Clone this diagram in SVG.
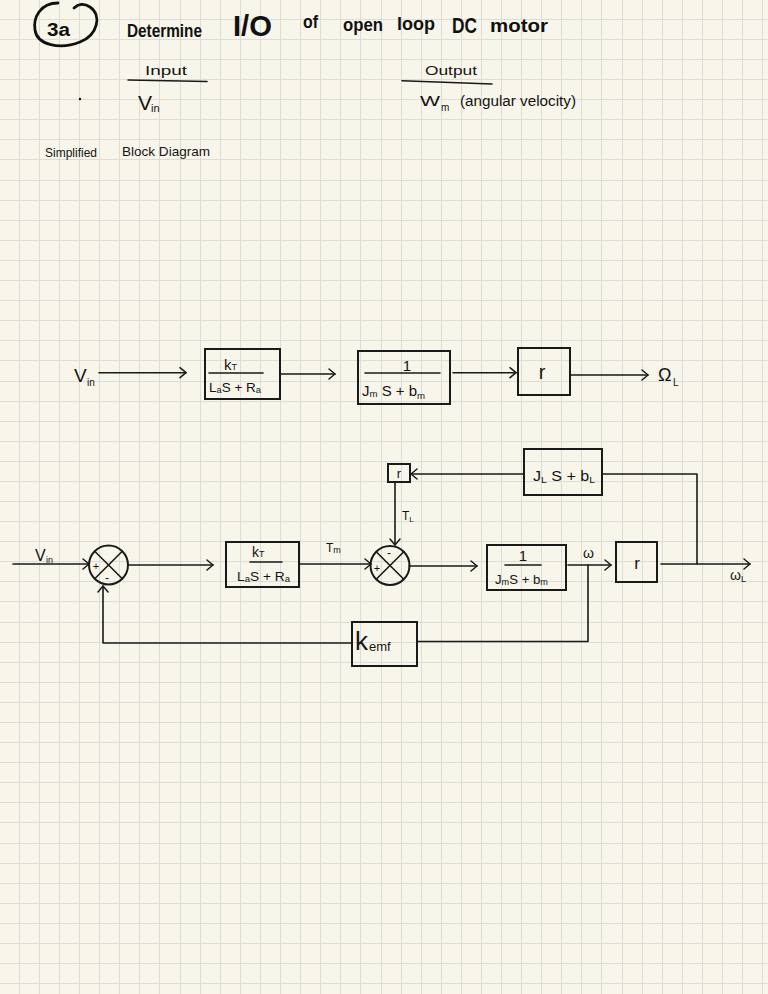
<svg xmlns="http://www.w3.org/2000/svg" width="768" height="994" viewBox="0 0 768 994">
<defs>
<style>
.ln{fill:none;stroke:#1a1a1a;stroke-width:1.6;stroke-linecap:round;stroke-linejoin:round}
.bx{fill:none;stroke:#1a1a1a;stroke-width:2}
.t{font-family:"Liberation Sans",Arial,sans-serif;fill:#141414}
.hd{font-family:"Liberation Sans",Arial,sans-serif;fill:#111;font-weight:bold}
.grid{fill:none;stroke:#dddcd6;stroke-width:1}
</style>
<marker id="ch" viewBox="0 0 8 12" refX="7" refY="6" markerWidth="8" markerHeight="12" markerUnits="userSpaceOnUse" orient="auto">
<path d="M1,1 L7,6 L1,11" fill="none" stroke="#1a1a1a" stroke-width="1.5" stroke-linecap="round" stroke-linejoin="round"/>
</marker>
</defs>
<rect width="768" height="994" fill="#f8f6ea"/>
<path class="grid" d="M19.5 0V994M39.5 0V994M59.5 0V994M79.5 0V994M99.5 0V994M119.5 0V994M139.5 0V994M159.5 0V994M180.5 0V994M200.5 0V994M220.5 0V994M240.5 0V994M260.5 0V994M280.5 0V994M300.5 0V994M320.5 0V994M340.5 0V994M360.5 0V994M381.5 0V994M401.5 0V994M421.5 0V994M441.5 0V994M461.5 0V994M481.5 0V994M501.5 0V994M521.5 0V994M541.5 0V994M561.5 0V994M581.5 0V994M601.5 0V994M622.5 0V994M642.5 0V994M662.5 0V994M682.5 0V994M702.5 0V994M722.5 0V994M742.5 0V994M762.5 0V994
M0 19.5H768M0 39.5H768M0 59.5H768M0 79.5H768M0 99.5H768M0 119.5H768M0 139.5H768M0 159.5H768M0 180.5H768M0 200.5H768M0 220.5H768M0 240.5H768M0 260.5H768M0 280.5H768M0 300.5H768M0 320.5H768M0 340.5H768M0 360.5H768M0 381.5H768M0 401.5H768M0 421.5H768M0 441.5H768M0 461.5H768M0 481.5H768M0 501.5H768M0 521.5H768M0 541.5H768M0 561.5H768M0 581.5H768M0 601.5H768M0 622.5H768M0 642.5H768M0 662.5H768M0 682.5H768M0 702.5H768M0 722.5H768M0 742.5H768M0 762.5H768M0 782.5H768M0 802.5H768M0 822.5H768M0 843.5H768M0 863.5H768M0 883.5H768M0 903.5H768M0 923.5H768M0 943.5H768M0 963.5H768M0 983.5H768"/>

<g id="header">
<path d="M58 3 C40 3,33 18,35 30 C37 45,60 50,80 42 C98 35,102 15,90 7 C84 3,78 4,74 8" fill="none" stroke="#111" stroke-width="2.8" stroke-linecap="round"/>
<text class="hd" x="47" y="36" font-size="18" textLength="23" lengthAdjust="spacingAndGlyphs">3a</text>
<text class="hd" x="127" y="37" font-size="19" textLength="75" lengthAdjust="spacingAndGlyphs">Determine</text>
<text class="hd" x="233" y="36" font-size="30" textLength="39" lengthAdjust="spacingAndGlyphs">I/O</text>
<text class="hd" x="303" y="28" font-size="19" textLength="15" lengthAdjust="spacingAndGlyphs">of</text>
<text class="hd" x="343" y="31" font-size="19" textLength="40" lengthAdjust="spacingAndGlyphs">open</text>
<text class="hd" x="397" y="30" font-size="18" textLength="38" lengthAdjust="spacingAndGlyphs">loop</text>
<text class="hd" x="452" y="33" font-size="22" textLength="25" lengthAdjust="spacingAndGlyphs">DC</text>
<text class="hd" x="490" y="32" font-size="19" textLength="58" lengthAdjust="spacingAndGlyphs">motor</text>
<text class="t" x="145" y="75" font-size="13" textLength="42" lengthAdjust="spacingAndGlyphs">Input</text>
<path d="M128 80 L207 81.5" class="ln"/>
<text class="t" x="138" y="110" font-size="21">V</text>
<text class="t" x="151" y="112" font-size="11">in</text>
<circle cx="80" cy="99" r="1.2" fill="#111"/>
<text class="t" x="425" y="75" font-size="12" textLength="52" lengthAdjust="spacingAndGlyphs">Output</text>
<path d="M402 80.7 L492 84" class="ln"/>
<text class="t" x="420" y="106" font-size="15" textLength="20" lengthAdjust="spacingAndGlyphs">W</text>
<text class="t" x="441" y="111" font-size="10">m</text>
<text class="t" x="460" y="106" font-size="14" textLength="116" lengthAdjust="spacingAndGlyphs">(angular velocity)</text>
<text class="t" x="45" y="157" font-size="13" textLength="52" lengthAdjust="spacingAndGlyphs">Simplified</text>
<text class="t" x="122" y="156" font-size="13" textLength="88" lengthAdjust="spacingAndGlyphs">Block Diagram</text>
</g>

<g id="connectors">
<path class="ln" marker-end="url(#ch)" d="M99 372.7 H186"/>
<path class="ln" marker-end="url(#ch)" d="M281 374 H335"/>
<path class="ln" marker-end="url(#ch)" d="M453 372.7 H516"/>
<path class="ln" marker-end="url(#ch)" d="M571 375 H648"/>
<path class="ln" marker-end="url(#ch)" d="M13 564 H89"/>
<path class="ln" marker-end="url(#ch)" d="M128 565 H213"/>
<path class="ln" marker-end="url(#ch)" d="M299 564 H371"/>
<path class="ln" marker-end="url(#ch)" d="M395 482 V545"/>
<path class="ln" marker-end="url(#ch)" d="M524 474 H411"/>
<path class="ln" d="M602 474 H697 V564"/>
<path class="ln" marker-end="url(#ch)" d="M409 566 H477"/>
<path class="ln" marker-end="url(#ch)" d="M568 565 H611"/>
<path class="ln" d="M588 565 V641.5 H417"/>
<path class="ln" marker-end="url(#ch)" d="M661 564 H750"/>
<path class="ln" marker-end="url(#ch)" d="M352 643 H103 V586"/>
</g>

<g id="vin-top">
<text class="t" x="74" y="382" font-size="19">V</text>
<text class="t" x="87" y="386" font-size="10">in</text>
</g>
<g id="box-kt-top">
<rect class="bx" x="205" y="349" width="75" height="50"/>
<path class="ln" d="M209 373 H263"/>
<text class="t" x="224" y="370" font-size="15">k<tspan font-size="9">T</tspan></text>
<text class="t" x="209" y="392" font-size="13" textLength="52" lengthAdjust="spacingAndGlyphs">L<tspan font-size="9" dy="1">a</tspan><tspan dy="-1">S + R</tspan><tspan font-size="9" dy="1">a</tspan></text>
</g>
<g id="box-jm-top">
<rect class="bx" x="358" y="351" width="92" height="53"/>
<path class="ln" d="M365 373 H440"/>
<text class="t" x="407" y="371" font-size="15" text-anchor="middle">1</text>
<text class="t" x="362" y="396" font-size="14" textLength="63" lengthAdjust="spacingAndGlyphs">J<tspan font-size="9" dy="1">m</tspan><tspan dy="-1"> S + b</tspan><tspan font-size="9" dy="3">m</tspan></text>
</g>
<g id="box-r-top">
<rect class="bx" x="518" y="348" width="52" height="47"/>
<text class="t" x="542" y="379" font-size="20" text-anchor="middle">r</text>
</g>
<g id="omega-top">
<text class="t" x="658" y="381" font-size="18">Ω</text>
<text class="t" x="673" y="386" font-size="10">L</text>
</g>

<g id="vin-bottom">
<text class="t" x="35" y="561" font-size="16">V</text>
<text class="t" x="46" y="563" font-size="9">in</text>
</g>
<g id="sum1">
<circle class="bx" cx="108.5" cy="565" r="19.5"/>
<path class="ln" d="M94.7 551.2 L122.3 578.8 M122.3 551.2 L94.7 578.8"/>
<text class="t" x="96" y="570" font-size="11" text-anchor="middle">+</text>
<text class="t" x="107" y="582" font-size="12" text-anchor="middle">-</text>
</g>
<g id="box-kt-bottom">
<rect class="bx" x="226" y="542" width="73" height="45"/>
<path class="ln" d="M250 562 H282"/>
<text class="t" x="252" y="557" font-size="14">k<tspan font-size="9">T</tspan></text>
<text class="t" x="237" y="581" font-size="13" textLength="53" lengthAdjust="spacingAndGlyphs">L<tspan font-size="9" dy="1">a</tspan><tspan dy="-1">S + R</tspan><tspan font-size="9" dy="1">a</tspan></text>
</g>
<g id="tm-label">
<text class="t" x="326" y="552" font-size="12">T<tspan font-size="9" dy="1">m</tspan></text>
</g>
<g id="sum2">
<circle class="bx" cx="390" cy="565.5" r="19.5"/>
<path class="ln" d="M376.2 551.7 L403.8 579.3 M403.8 551.7 L376.2 579.3"/>
<text class="t" x="389" y="557" font-size="12" text-anchor="middle">-</text>
<text class="t" x="377" y="572" font-size="11" text-anchor="middle">+</text>
</g>
<g id="box-r-small">
<rect class="bx" x="388" y="464" width="22" height="18"/>
<text class="t" x="399" y="478" font-size="13" text-anchor="middle">r</text>
</g>
<g id="tl-label">
<text class="t" x="402" y="520" font-size="12">T<tspan font-size="8" dy="2">L</tspan></text>
</g>
<g id="box-jl">
<rect class="bx" x="524" y="449" width="78" height="46"/>
<text class="t" x="533" y="481" font-size="14" textLength="62" lengthAdjust="spacingAndGlyphs">J<tspan font-size="9" dy="2">L</tspan><tspan dy="-2"> S + b</tspan><tspan font-size="9" dy="2">L</tspan></text>
</g>
<g id="box-jm-bottom">
<rect class="bx" x="487" y="545" width="79" height="45"/>
<path class="ln" d="M505 565 H541"/>
<text class="t" x="523" y="561" font-size="15" text-anchor="middle">1</text>
<text class="t" x="495" y="584" font-size="13" textLength="53" lengthAdjust="spacingAndGlyphs">J<tspan font-size="9" dy="1">m</tspan><tspan dy="-1">S + b</tspan><tspan font-size="9" dy="1">m</tspan></text>
</g>
<g id="omega-label">
<text class="t" x="583" y="558" font-size="14">ω</text>
</g>
<g id="box-r-bottom">
<rect class="bx" x="616" y="542" width="41" height="40"/>
<text class="t" x="637" y="569" font-size="17" text-anchor="middle">r</text>
</g>
<g id="omegal-label">
<text class="t" x="730" y="580" font-size="14">ω<tspan font-size="9" dy="2">L</tspan></text>
</g>
<g id="box-kemf">
<rect class="bx" x="352" y="622" width="65" height="44"/>
<text class="t" x="355" y="650" font-size="26">k</text>
<text class="t" x="369" y="651" font-size="13">emf</text>
</g>
</svg>
